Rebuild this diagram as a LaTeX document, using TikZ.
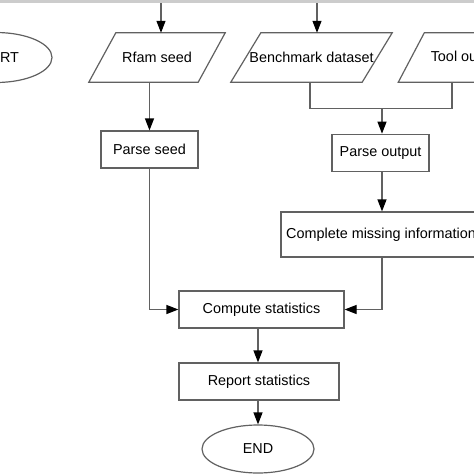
\documentclass[tikz,border=0pt]{standalone}
\usepackage{fontspec}
\setmainfont{Liberation Sans}
\usetikzlibrary{arrows.meta,shapes.geometric,calc}
\begin{document}
\begin{tikzpicture}[x=1pt,y=-1pt,
  every node/.style={font=\fontsize{14.4}{16}\selectfont, inner sep=0pt, text=black},
  ln/.style={draw=black!62, line width=1.2pt},
  arr/.style={ln, -{Triangle[length=12pt,width=9pt,color=black]}},
  boxnode/.style={rectangle, ln, fill=white},
  ellnode/.style={ellipse, ln, fill=white},
  paranode/.style={rectangle, draw=none}
]
\useasboundingbox (0,0) rectangle (474,474);
\fill[white] (0,0) rectangle (474,474);

% nodes
\node[ellnode, minimum width=112pt, minimum height=50pt] (start) at (-4,57.5) {START};
\node[paranode, minimum width=109pt, minimum height=49pt] (rfam) at (157,57.5) {Rfam seed};
\node[paranode, minimum width=131pt, minimum height=49pt] (bench) at (311.5,57.5) {Benchmark dataset};
\node[paranode, minimum width=109pt, minimum height=49pt] (tool) at (466,57.5) {Tool output};
\node[boxnode, minimum width=97pt, minimum height=37pt] (pseed) at (149.5,149.5) {Parse seed};
\node[boxnode, minimum width=97pt, minimum height=37.5pt] (pout) at (380.5,153) {Parse output};
\node[boxnode, minimum width=200pt, minimum height=45pt] (complete) at (381,234.5) {Complete missing information};
\node[boxnode, minimum width=165pt, minimum height=37pt] (compute) at (261.5,309.5) {Compute statistics};
\node[boxnode, minimum width=160pt, minimum height=37pt] (report) at (259,381.5) {Report statistics};
\node[ellnode, minimum width=112pt, minimum height=48pt] (end) at (258,449) {END};

% parallelogram outlines
\draw[ln] ([xshift=13.5pt]rfam.north west) -- ([xshift=13.5pt]rfam.north east) -- ([xshift=-13.5pt]rfam.south east) -- ([xshift=-13.5pt]rfam.south west) -- cycle;
\draw[ln] ([xshift=15pt]bench.north west) -- ([xshift=15pt]bench.north east) -- ([xshift=-15pt]bench.south east) -- ([xshift=-15pt]bench.south west) -- cycle;
\draw[ln] ([xshift=13pt]tool.north west) -- ([xshift=13pt]tool.north east) -- ([xshift=-13pt]tool.south east) -- ([xshift=-13pt]tool.south west) -- cycle;

% connectors
\coordinate (t1) at (161,0);
\coordinate (t2) at (317,0);
\coordinate (j1) at (310,108.5);
\coordinate (j2) at (452,108.5);
\coordinate (jm) at (382,108.5);
\draw[arr] (t1) -- (t1 |- rfam.north);
\draw[arr] (t2) -- (t2 |- bench.north);
\draw[arr] (pseed |- rfam.south) -- (pseed.north);
\draw[ln] (j1 |- bench.south) -- (j1) -- (j2) -- (j2 |- tool.south);
\draw[arr] (jm) -- (jm |- pout.north);
\draw[arr] (jm |- pout.south) -- (jm |- complete.north);
\draw[arr] (jm |- complete.south) |- (compute.east);
\draw[arr] (pseed.south) |- (compute.west);
\draw[arr] (end |- compute.south) -- (end |- report.north);
\draw[arr] (end |- report.south) -- (end.north);

% top band
\fill[black!20] (0,0) rectangle (474,2.5);
\end{tikzpicture}
\end{document}
